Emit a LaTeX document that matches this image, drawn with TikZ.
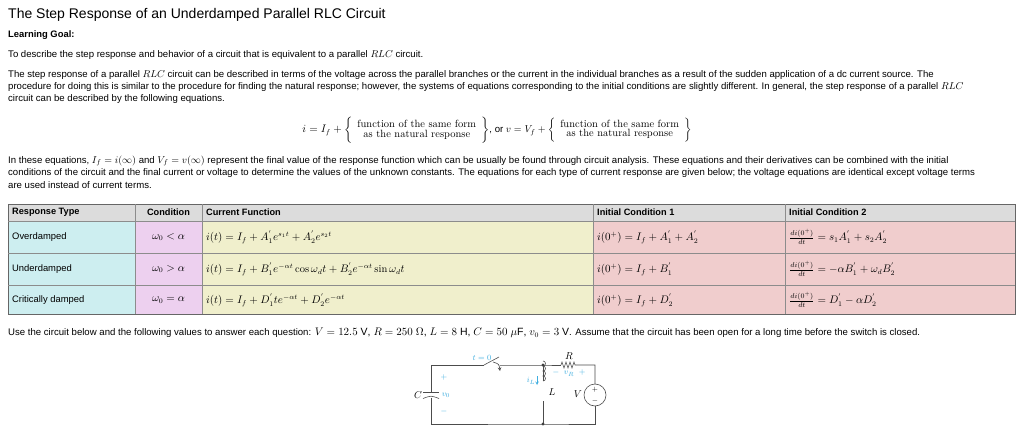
\documentclass[tikz,border=0pt]{standalone}
\usepackage{amsmath}
\usepackage{fontspec}
\setmainfont{Liberation Sans}
\newfontfamily\lmr{Latin Modern Roman}
\newcommand{\lmtxt}[1]{\text{\lmr\fontsize{10.5}{12}\selectfont #1}}
\newcommand{\mycos}{\mathop{\text{\lmr cos}}\nolimits}
\newcommand{\mysin}{\mathop{\text{\lmr sin}}\nolimits}
\definecolor{hd}{HTML}{DCDCDC}
\definecolor{cA}{HTML}{CDEEF0}
\definecolor{cB}{HTML}{EDD0EF}
\definecolor{cC}{HTML}{F0EFCC}
\definecolor{cD}{HTML}{F0CDCD}
\definecolor{bl}{HTML}{3FAEE0}
\begin{document}
\begin{tikzpicture}[x=1pt,y=-1pt,
  txt/.style={anchor=west,inner sep=0pt,font=\fontsize{9.6}{11}\selectfont},
  cell/.style={anchor=west,inner sep=0pt,font=\fontsize{9.4}{11}\selectfont},
  mth/.style={anchor=west,inner sep=0pt,font=\fontsize{10.5}{12}\selectfont},
  wire/.style={draw=black!70,line width=0.6pt},
  lab/.style={inner sep=0pt,font=\fontsize{10}{11}\selectfont},
  bll/.style={inner sep=0pt,text=bl,font=\fontsize{8.5}{9}\selectfont}]
\useasboundingbox (0,0) rectangle (1024,433);
\fill[white] (0,0) rectangle (1024,433);
\node[txt,font=\fontsize{14}{16}\selectfont] (title) at (8,15) {The Step Response of an Underdamped Parallel RLC Circuit};
\node[txt,font=\bfseries\fontsize{9.4}{11}\selectfont] (lg) at (8,35) {Learning Goal:};
\node[txt] (p0) at (8,55) {To describe the step response and behavior of a circuit that is equivalent to a parallel $RLC$ circuit.};
\node[txt] (p1) at (8,75) {The step response of a parallel $RLC$ circuit can be described in terms of the voltage across the parallel branches or the current in the individual branches as a result of the sudden application of a dc current source. The};
\node[txt] (p2) at (8,87) {procedure for doing this is similar to the procedure for finding the natural response; however, the systems of equations corresponding to the initial conditions are slightly different. In general, the step response of a parallel $RLC$};
\node[txt] (p3) at (8,99) {circuit can be described by the following equations.};
\node[inner sep=0pt,font=\fontsize{10.5}{12}\selectfont] (eq) at (497,130) {$i=I_f+\left\{\begin{array}{c}\lmtxt{function of the same form}\\[-2pt] \lmtxt{as the natural response}\end{array}\right\}$\fontsize{9.6}{11}\selectfont, or $v=V_f+\left\{\begin{array}{c}\lmtxt{function of the same form}\\[-2pt] \lmtxt{as the natural response}\end{array}\right\}$};
\node[txt] (q1) at (8,161) {In these equations, $I_f=i(\infty)$ and $V_f=v(\infty)$ represent the final value of the response function which can be usually be found through circuit analysis. These equations and their derivatives can be combined with the initial};
\node[txt] (q2) at (8,173) {conditions of the circuit and the final current or voltage to determine the values of the unknown constants. The equations for each type of current response are given below; the voltage equations are identical except voltage terms};
\node[txt] (q3) at (8,185) {are used instead of current terms.};
% table
\fill[hd] (8,204) rectangle (1015,221);
\fill[cA] (8,221) rectangle (135,314);
\fill[cB] (135,221) rectangle (202,314);
\fill[cC] (202,221) rectangle (593,314);
\fill[cD] (593,221) rectangle (1015,314);
\draw[black!60,line width=0.5pt] (8,204) rectangle (1015,314);
\foreach \y in {221,253,285} \draw[black!45,line width=0.5pt] (8,\y) -- (1015,\y);
\foreach \x in {135,202,593,785} \draw[black!45,line width=0.5pt] (\x,204) -- (\x,314);
\node[cell,font=\bfseries\fontsize{9.2}{11}\selectfont] (h1) at (12,212.5) {Response Type};
\node[cell,font=\bfseries\fontsize{9.2}{11}\selectfont,anchor=center] (h2) at (168.5,212.5) {Condition};
\node[cell,font=\bfseries\fontsize{9.2}{11}\selectfont] (h3) at (206,212.5) {Current Function};
\node[cell,font=\bfseries\fontsize{9.2}{11}\selectfont] (h4) at (597,212.5) {Initial Condition 1};
\node[cell,font=\bfseries\fontsize{9.2}{11}\selectfont] (h5) at (789,212.5) {Initial Condition 2};
\node[cell] (r1) at (12,237) {Overdamped};
\node[cell] (r2) at (12,269) {Underdamped};
\node[cell] (r3) at (12,300) {Critically damped};
\node[mth,anchor=center] (c1) at (168.5,237) {$\omega_0<\alpha$};
\node[mth,anchor=center] (c2) at (168.5,269) {$\omega_0>\alpha$};
\node[mth,anchor=center] (c3) at (168.5,300) {$\omega_0=\alpha$};
\node[mth] (f1) at (206,237) {$i(t)=I_f+A_1^{'}e^{s_1t}+A_2^{'}e^{s_2t}$};
\node[mth] (f2) at (206,269) {$i(t)=I_f+B_1^{'}e^{-\alpha t}\mycos\omega_dt+B_2^{'}e^{-\alpha t}\mysin\omega_dt$};
\node[mth] (f3) at (206,300) {$i(t)=I_f+D_1^{'}te^{-\alpha t}+D_2^{'}e^{-\alpha t}$};
\node[mth] (a1) at (597,237) {$i(0^+)=I_f+A_1^{'}+A_2^{'}$};
\node[mth] (a2) at (597,269) {$i(0^+)=I_f+B_1^{'}$};
\node[mth] (a3) at (597,300) {$i(0^+)=I_f+D_2^{'}$};
\node[mth] (b1) at (789,237) {$\frac{di(0^+)}{dt}=s_1A_1^{'}+s_2A_2^{'}$};
\node[mth] (b2) at (789,269) {$\frac{di(0^+)}{dt}=-\alpha B_1^{'}+\omega_dB_2^{'}$};
\node[mth] (b3) at (789,300) {$\frac{di(0^+)}{dt}=D_1^{'}-\alpha D_2^{'}$};
\node[txt] (use) at (8,333) {Use the circuit below and the following values to answer each question: {\fontsize{10.5}{12}\selectfont$V=12.5\ \mathrm{V}$, $R=250\ \Omega$, $L=8\ \mathrm{H}$, $C=50\ \mu\mathrm{F}$, $v_0=3\ \mathrm{V}$}. Assume that the circuit has been open for a long time before the switch is closed.};
% circuit
\coordinate (tl) at (431,365); \coordinate (bl) at (431,424);
\coordinate (sw1) at (484,365); \coordinate (sw2) at (500,365);
\coordinate (nt) at (543,365); \coordinate (nb) at (543,424);
\coordinate (tr) at (595,365); \coordinate (br) at (595,424);
\draw[wire] (sw1) -- (tl) -- (431,392.5) (431,397.5) -- (bl) -- (nb) -- (br) -- (595,406);
\draw[wire] (431,392.5) ++(-8,0) -- ++(16,0);
\draw[wire] (423,398.5) .. controls (431,395.5) .. (439,398.5);
\draw[wire] (sw1) -- (499,357);
\draw[wire,->,>=stealth] (493,362) .. controls (499,364) .. (500,371);
\draw[wire] (sw2) -- (nt) -- (561,365);
\draw[wire] (561,365) -- (562,362) -- (564,368) -- (566,362) -- (568,368) -- (570,362) -- (572,368) -- (574,362) -- (575,365) -- (tr) -- (595,384);
\draw[wire] (nt) -- (543,381);
\draw[wire] (543,381) arc (90:-90:2.5) arc (90:-90:2.5) arc (90:-90:2.5) arc (90:-90:2.5);
\draw[wire] (543,401) -- (nb);
\node[wire,circle,minimum size=22pt,inner sep=0pt] (src) at (595,395) {};
\node[lab] at (595,389.5) {\scriptsize$+$};
\node[lab] at (595,401) {\scriptsize$-$};
\fill[black!75] (nt) circle (1.6) (nb) circle (1.6);
\node[lab] (lC) at (418,395) {$C$};
\node[lab] (lL) at (552,392) {$L$};
\node[lab] (lV) at (578,394) {$V$};
\node[lab] (lR) at (569,356) {$R$};
\node[bll] (lt) at (482,358) {$t=0$};
\node[bll] at (444,377) {$+$};
\node[bll] at (444,411) {$-$};
\node[bll] (lv0) at (446,395) {$v_0$};
\node[bll] (liL) at (531,381) {$i_L$};
\draw[bl,->,>=stealth,line width=0.6pt] (537,376) -- (537,385);
\node[bll] (lvR) at (569,373) {$-\ \ v_R\ \ +$};
\end{tikzpicture}
\end{document}
